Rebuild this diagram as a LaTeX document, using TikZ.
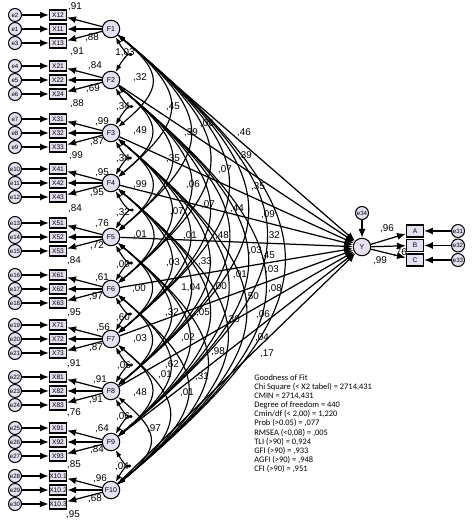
\documentclass[tikz,border=0pt]{standalone}
\usepackage{fontspec}
\setmainfont{Liberation Sans}
\newfontfamily\goffont{Carlito}
\usetikzlibrary{arrows.meta}
\definecolor{lav}{RGB}{230,224,242}
\tikzset{
  errc/.style={circle,draw,fill=lav,line width=0.6pt,minimum size=0.26cm,inner sep=0pt,font=\fontsize{3.5}{4}\selectfont},
  obsbox/.style={rectangle,draw,fill=lav,line width=0.8pt,minimum width=0.34cm,minimum height=0.2cm,inner sep=0pt,font=\fontsize{3.8}{4}\selectfont},
  latc/.style={circle,draw,fill=lav,line width=0.6pt,minimum size=0.35cm,inner sep=0pt,font=\fontsize{4}{4}\selectfont},
  path1/.style={-{Latex[length=5pt,width=4pt]},line width=0.7pt},
  cov/.style={{Latex[length=4pt,width=3pt]}-{Latex[length=4pt,width=3pt]},line width=0.65pt,out=-40,in=40,looseness=1.65},
  covnear/.style={cov,out=-60,in=60,looseness=3},
  coefl/.style={font=\fontsize{5.6}{6}\selectfont,inner sep=0pt},
  gof/.style={font=\goffont\fontsize{4.8}{5.2}\selectfont,align=left,inner sep=0pt}
}
\newcommand{\indicator}[4]{\node[obsbox] (#1) at (58,#4) {#2};
  \node[errc] (#3) at (15,#4) {#3};
  \draw[path1] (#3) -- (#1);}
\newcommand{\latent}[2]{\node[latc] (#1) at (111,#2) {#1};}
\newcommand{\coefnode}[4]{\node[coefl] (#1) at (#2,#3) {#4};}

\begin{document}
\begin{tikzpicture}[x=0.02cm,y=-0.02cm]
\useasboundingbox (0,0) rectangle (474,523);
% factor 1
\latent{F1}{29}
\indicator{X12}{X12}{e2}{15}
\indicator{X11}{X11}{e1}{29}
\indicator{X13}{X13}{e3}{43}
\draw[path1] (F1) -- (X12); \draw[path1] (F1) -- (X11); \draw[path1] (F1) -- (X13);
\coefnode{s11}{75}{7}{,91} \coefnode{s12}{92}{38}{,88} \coefnode{s13}{77}{52}{,91}
% factor 2
\latent{F2}{80}
\indicator{X21}{X21}{e4}{66}
\indicator{X22}{X22}{e5}{80}
\indicator{X24}{X24}{e6}{94}
\draw[path1] (F2) -- (X21); \draw[path1] (F2) -- (X22); \draw[path1] (F2) -- (X24);
\coefnode{s21}{95}{66}{,84} \coefnode{s22}{93}{89}{,69} \coefnode{s23}{77}{104}{,88}
% factor 3
\latent{F3}{133}
\indicator{X31}{X31}{e7}{119}
\indicator{X32}{X32}{e8}{133}
\indicator{X33}{X33}{e9}{147}
\draw[path1] (F3) -- (X31); \draw[path1] (F3) -- (X32); \draw[path1] (F3) -- (X33);
\coefnode{s31}{102}{122}{,99} \coefnode{s32}{97}{142}{,87} \coefnode{s33}{76}{156}{,99}
% factor 4
\latent{F4}{183}
\indicator{X41}{X41}{e10}{169}
\indicator{X42}{X42}{e11}{183}
\indicator{X43}{X43}{e12}{197}
\draw[path1] (F4) -- (X41); \draw[path1] (F4) -- (X42); \draw[path1] (F4) -- (X43);
\coefnode{s41}{102}{173}{,95} \coefnode{s42}{97}{193}{,95} \coefnode{s43}{75}{209}{,84}
% factor 5
\latent{F5}{237}
\indicator{X51}{X51}{e13}{223}
\indicator{X52}{X52}{e14}{237}
\indicator{X53}{X53}{e15}{251}
\draw[path1] (F5) -- (X51); \draw[path1] (F5) -- (X52); \draw[path1] (F5) -- (X53);
\coefnode{s51}{102}{224}{,76} \coefnode{s52}{97}{246}{,72} \coefnode{s53}{74}{261}{,84}
% factor 6
\latent{F6}{289}
\indicator{X61}{X61}{e16}{275}
\indicator{X62}{X62}{e17}{289}
\indicator{X63}{X63}{e18}{303}
\draw[path1] (F6) -- (X61); \draw[path1] (F6) -- (X62); \draw[path1] (F6) -- (X63);
\coefnode{s61}{102}{278}{,61} \coefnode{s62}{96}{297}{,97} \coefnode{s63}{74}{313}{,95}
% factor 7
\latent{F7}{339}
\indicator{X71}{X71}{e19}{325}
\indicator{X72}{X72}{e20}{339}
\indicator{X73}{X73}{e21}{353}
\draw[path1] (F7) -- (X71); \draw[path1] (F7) -- (X72); \draw[path1] (F7) -- (X73);
\coefnode{s71}{103}{328}{,56} \coefnode{s72}{96}{348}{,87} \coefnode{s73}{74}{364}{,91}
% factor 8
\latent{F8}{391}
\indicator{X81}{X81}{e22}{377}
\indicator{X82}{X82}{e23}{391}
\indicator{X83}{X83}{e24}{405}
\draw[path1] (F8) -- (X81); \draw[path1] (F8) -- (X82); \draw[path1] (F8) -- (X83);
\coefnode{s81}{100}{380}{,91} \coefnode{s82}{96}{400}{,91} \coefnode{s83}{74}{413}{,76}
% factor 9
\latent{F9}{442}
\indicator{X91}{X91}{e25}{428}
\indicator{X92}{X92}{e26}{442}
\indicator{X93}{X93}{e27}{456}
\draw[path1] (F9) -- (X91); \draw[path1] (F9) -- (X92); \draw[path1] (F9) -- (X93);
\coefnode{s91}{102}{429}{,64} \coefnode{s92}{97}{450}{,84} \coefnode{s93}{74}{465}{,85}
% factor 10
\latent{F10}{490}
\indicator{X101}{X10.1}{e28}{476}
\indicator{X102}{X10.2}{e29}{490}
\indicator{X103}{X10.3}{e30}{504}
\draw[path1] (F10) -- (X101); \draw[path1] (F10) -- (X102); \draw[path1] (F10) -- (X103);
\coefnode{s101}{100}{479}{,96} \coefnode{s102}{95}{499}{,68} \coefnode{s103}{73}{515}{,95}
% dependent Y
\node[latc] (Y) at (362,247) {Y};
\node[errc] (e34) at (362,213) {e34};
\node[obsbox,minimum height=0.24cm] (A) at (415,231) {A};
\node[obsbox,minimum height=0.24cm] (B) at (415,245.5) {B};
\node[obsbox,minimum height=0.24cm] (C) at (415,260) {C};
\node[errc] (e31) at (458,231) {e31};
\node[errc] (e32) at (458,245.5) {e32};
\node[errc] (e33) at (458,260) {e33};
\draw[path1] (e34) -- (Y);
\draw[path1] (Y) -- (A); \draw[path1] (Y) -- (B); \draw[path1] (Y) -- (C);
\draw[path1] (e31) -- (A); \draw[path1] (e32) -- (B); \draw[path1] (e33) -- (C);
\coefnode{y1}{387}{229}{,96} \coefnode{y2}{400}{253}{,76} \coefnode{y3}{380}{261}{,99}
% paths to Y
\draw[path1] (F1) -- (Y); \draw[path1] (F2) -- (Y); \draw[path1] (F3) -- (Y);
\draw[path1] (F4) -- (Y); \draw[path1] (F5) -- (Y); \draw[path1] (F6) -- (Y);
\draw[path1] (F7) -- (Y); \draw[path1] (F8) -- (Y); \draw[path1] (F9) -- (Y);
\draw[path1] (F10) -- (Y);
% covariances
\draw[covnear] (F1) to (F2); \draw[cov] (F1) to (F3); \draw[cov] (F1) to (F4);
\draw[cov] (F1) to (F5); \draw[cov] (F1) to (F6); \draw[cov] (F1) to (F7);
\draw[cov] (F1) to (F8); \draw[cov] (F1) to (F9); \draw[cov] (F1) to (F10);
\draw[covnear] (F2) to (F3); \draw[cov] (F2) to (F4); \draw[cov] (F2) to (F5);
\draw[cov] (F2) to (F6); \draw[cov] (F2) to (F7); \draw[cov] (F2) to (F8);
\draw[cov] (F2) to (F9); \draw[cov] (F2) to (F10);
\draw[covnear] (F3) to (F4); \draw[cov] (F3) to (F5); \draw[cov] (F3) to (F6);
\draw[cov] (F3) to (F7); \draw[cov] (F3) to (F8); \draw[cov] (F3) to (F9);
\draw[cov] (F3) to (F10);
\draw[covnear] (F4) to (F5); \draw[cov] (F4) to (F6); \draw[cov] (F4) to (F7);
\draw[cov] (F4) to (F8); \draw[cov] (F4) to (F9); \draw[cov] (F4) to (F10);
\draw[covnear] (F5) to (F6); \draw[cov] (F5) to (F7); \draw[cov] (F5) to (F8);
\draw[cov] (F5) to (F9); \draw[cov] (F5) to (F10);
\draw[covnear] (F6) to (F7); \draw[cov] (F6) to (F8); \draw[cov] (F6) to (F9);
\draw[cov] (F6) to (F10);
\draw[covnear] (F7) to (F8); \draw[cov] (F7) to (F9); \draw[cov] (F7) to (F10);
\draw[covnear] (F8) to (F9); \draw[cov] (F8) to (F10);
\draw[covnear] (F9) to (F10);
% estimates on covariances and paths
\coefnode{m1}{125}{53}{1,03} \coefnode{m2}{140}{78}{,32} \coefnode{m3}{123}{107}{,34}
\coefnode{m4}{140}{131}{,49} \coefnode{m5}{123}{159}{,34} \coefnode{m6}{140}{185}{,99}
\coefnode{m7}{123}{213}{,32} \coefnode{m8}{140}{235}{,01} \coefnode{m9}{123}{265}{,00}
\coefnode{m10}{139}{289}{,00} \coefnode{m11}{123}{318}{,60} \coefnode{m12}{140}{339}{,03}
\coefnode{m13}{124}{366}{,06} \coefnode{m14}{140}{393}{,48} \coefnode{m15}{123}{417}{,06}
\coefnode{m16}{154}{429}{,97} \coefnode{m17}{122}{467}{,04}
\coefnode{m18}{173}{107}{,45} \coefnode{m19}{207}{124}{,06} \coefnode{m20}{244}{133}{,46}
\coefnode{m21}{191}{133}{,39} \coefnode{m22}{245}{156}{,39} \coefnode{m23}{173}{159}{,35}
\coefnode{m24}{225}{170}{,07} \coefnode{m25}{193}{185}{,06} \coefnode{m26}{258}{187}{,35}
\coefnode{m27}{208}{205}{,07} \coefnode{m28}{237}{209}{,44} \coefnode{m29}{177}{212}{,07}
\coefnode{m30}{268}{215}{,09} \coefnode{m31}{190}{236}{,01} \coefnode{m32}{222}{236}{,48}
\coefnode{m33}{273}{236}{,32} \coefnode{m34}{255}{251}{,03} \coefnode{m35}{268}{256}{,45}
\coefnode{m36}{173}{263}{,03} \coefnode{m37}{205}{262}{,33} \coefnode{m38}{240}{275}{,01}
\coefnode{m39}{272}{270}{,03} \coefnode{m40}{191}{288}{1,04} \coefnode{m41}{220}{287}{,00}
\coefnode{m42}{252}{297}{,50} \coefnode{m43}{275}{289}{,08} \coefnode{m44}{172}{313}{,32}
\coefnode{m45}{203}{313}{,05} \coefnode{m46}{233}{320}{,30} \coefnode{m47}{263}{315}{,06}
\coefnode{m48}{188}{338}{,02} \coefnode{m49}{262}{338}{,04} \coefnode{m50}{218}{352}{,98}
\coefnode{m51}{267}{354}{,17} \coefnode{m52}{172}{365}{,62} \coefnode{m53}{165}{375}{,01}
\coefnode{m54}{202}{377}{,31} \coefnode{m55}{187}{393}{,01}
% fit table
\node[gof,anchor=north west] (fit) at (254,374) {Goodness of Fit\\
Chi Square (< X2 tabel) = 2714,431\\
CMIN = 2714,431\\
Degree of freedom = 440\\
Cmin/df (< 2,00) = 1,220\\
Prob (>0.05) = ,077\\
RMSEA (<0,08) = ,005\\
TLI (>90) = 0,924\\
GFI (>90) = ,933\\
AGFI (>90) = ,948\\
CFI (>90) = ,951};
\end{tikzpicture}
\end{document}
